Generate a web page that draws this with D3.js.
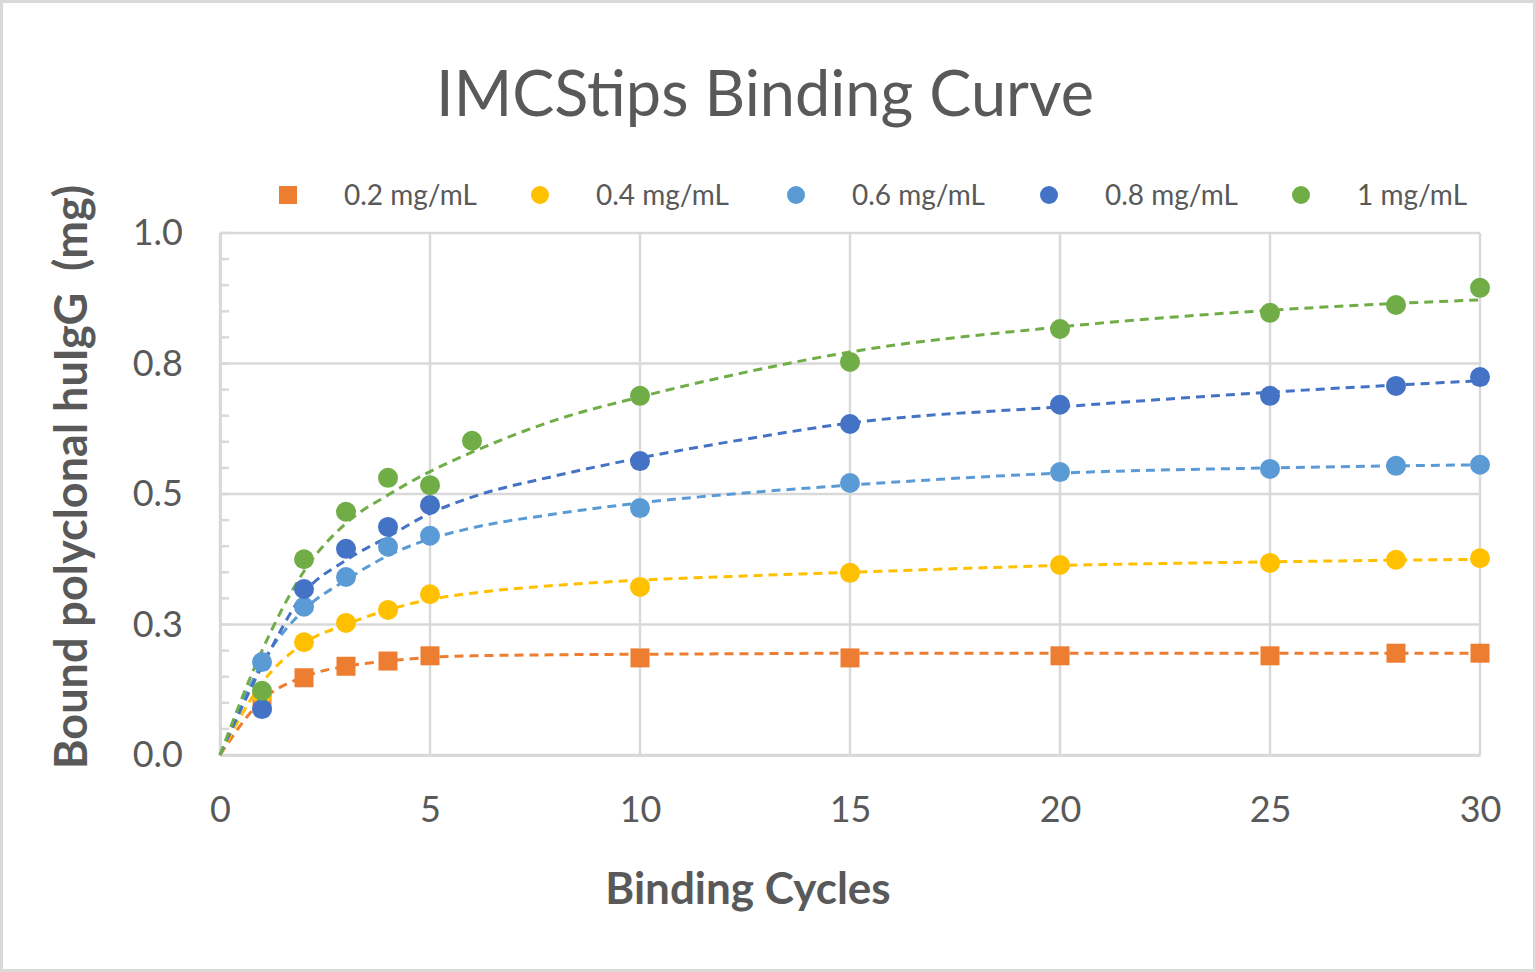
<!DOCTYPE html>
<html>
<head>
<meta charset="utf-8">
<script src="https://cdn.jsdelivr.net/npm/d3@7"></script>
<style>
  body { margin: 0; background: #fff; }
  text { font-family: Lato, "Open Sans", sans-serif; fill: #595959; }
</style>
</head>
<body>
<div class="chart"></div>
<script>
// data
var cycles = [1, 2, 3, 4, 5, 10, 15, 20, 25, 28, 30];
var cyclesGreen = [1, 2, 3, 4, 5, 6, 10, 15, 20, 25, 28, 30];

var conc02 = [0.10, 0.148, 0.170, 0.180, 0.190, 0.186, 0.186, 0.190, 0.190, 0.195, 0.195];
var conc04 = [0.115, 0.216, 0.253, 0.278, 0.308, 0.322, 0.349, 0.364, 0.368, 0.374, 0.377];
var conc06 = [0.178, 0.284, 0.341, 0.399, 0.420, 0.473, 0.521, 0.542, 0.548, 0.554, 0.556];
var conc08 = [0.088, 0.318, 0.395, 0.437, 0.479, 0.563, 0.634, 0.671, 0.688, 0.707, 0.724];
var conc10 = [0.123, 0.375, 0.466, 0.531, 0.517, 0.602, 0.688, 0.753, 0.816, 0.847, 0.862, 0.895];

// trend line points
var fitX = [0, 1, 2, 3, 4, 5, 6, 8, 10, 12.5, 15, 20, 25, 30];
var fit02 = [0, 0.105, 0.150, 0.170, 0.180, 0.187, 0.190, 0.192, 0.193, 0.194, 0.195, 0.195, 0.195, 0.195];
var fit04 = [0, 0.138, 0.214, 0.250, 0.278, 0.298, 0.310, 0.325, 0.335, 0.343, 0.350, 0.363, 0.370, 0.375];
var fit06 = [0, 0.176, 0.278, 0.335, 0.382, 0.414, 0.435, 0.462, 0.483, 0.502, 0.517, 0.540, 0.550, 0.556];
var fit08 = [0, 0.170, 0.310, 0.373, 0.418, 0.463, 0.494, 0.535, 0.569, 0.605, 0.636, 0.667, 0.695, 0.717];
var fit10 = [0, 0.200, 0.352, 0.444, 0.498, 0.543, 0.580, 0.642, 0.686, 0.733, 0.772, 0.820, 0.852, 0.872];

var seriesNames = ["0.2 mg/mL", "0.4 mg/mL", "0.6 mg/mL", "0.8 mg/mL", "1 mg/mL"];
var xTicks = [0, 5, 10, 15, 20, 25, 30];
var yTicks = [0, 0.25, 0.5, 0.75, 1];
var yTickLabels = ["0.0", "0.3", "0.5", "0.8", "1.0"];

var colors = ["#ED7D31", "#FFC000", "#5B9BD5", "#4472C4", "#70AD47"];

var series = [
  { name: seriesNames[0], x: cycles, y: conc02, fit: fit02, color: colors[0], shape: "square" },
  { name: seriesNames[1], x: cycles, y: conc04, fit: fit04, color: colors[1], shape: "circle" },
  { name: seriesNames[2], x: cycles, y: conc06, fit: fit06, color: colors[2], shape: "circle" },
  { name: seriesNames[3], x: cycles, y: conc08, fit: fit08, color: colors[3], shape: "circle" },
  { name: seriesNames[4], x: cyclesGreen, y: conc10, fit: fit10, color: colors[4], shape: "circle" }
];

var svgWidth = 1536;
var svgHeight = 972;

var margin = { top: 233, right: 56, bottom: 217, left: 220 };
var width = svgWidth - margin.left - margin.right;
var height = svgHeight - margin.top - margin.bottom;

var svg = d3.select(".chart")
  .append("svg")
  .attr("width", svgWidth)
  .attr("height", svgHeight);

// outer frame
svg.append("rect")
  .attr("x", 1.5).attr("y", 1.5)
  .attr("width", svgWidth - 3).attr("height", svgHeight - 3)
  .attr("fill", "#fff")
  .attr("stroke", "#d9d9d9")
  .attr("stroke-width", 3);

var chartGroup = svg.append("g")
  .attr("transform", `translate(${margin.left}, ${margin.top})`);

var xScale = d3.scaleLinear().domain([0, 30]).range([0, width]);
var yScale = d3.scaleLinear().domain([0, 1]).range([height, 0]);

// gridlines
chartGroup.append("g")
  .selectAll("line.hgrid")
  .data(yTicks)
  .enter()
  .append("line")
  .attr("x1", 0).attr("x2", width)
  .attr("y1", d => yScale(d)).attr("y2", d => yScale(d))
  .attr("stroke", "#d9d9d9")
  .attr("stroke-width", 2.5);

chartGroup.append("g")
  .selectAll("line.vgrid")
  .data(xTicks)
  .enter()
  .append("line")
  .attr("x1", d => xScale(d)).attr("x2", d => xScale(d))
  .attr("y1", 0).attr("y2", height)
  .attr("stroke", "#d9d9d9")
  .attr("stroke-width", 2.5);

// axes
var bottomAxis = d3.axisBottom(xScale).tickValues(xTicks).tickSize(0).tickPadding(54);
var leftAxis = d3.axisLeft(yScale).tickValues(yTicks).tickSize(0).tickPadding(37)
  .tickFormat((d, i) => yTickLabels[i]);

var xAxisG = chartGroup.append("g")
  .attr("transform", `translate(0, ${height})`)
  .call(bottomAxis);
var yAxisG = chartGroup.append("g").call(leftAxis);

[xAxisG, yAxisG].forEach(function(g) {
  g.select(".domain").attr("stroke", "#d9d9d9").attr("stroke-width", 3);
  g.selectAll("text")
    .attr("font-family", "Lato, sans-serif")
    .attr("font-size", "36px")
    .attr("fill", "#595959");
});
xAxisG.selectAll("text").attr("dy", "0.35em");

// minor ticks on the value axis
var minorTicks = d3.range(0, 1.0001, 0.05);
chartGroup.append("g")
  .selectAll("line")
  .data(minorTicks)
  .enter()
  .append("line")
  .attr("x1", 0).attr("x2", 9)
  .attr("y1", d => yScale(d)).attr("y2", d => yScale(d))
  .attr("stroke", "#d9d9d9")
  .attr("stroke-width", 2.5);

// trend lines
var fitLine = d3.line()
  .x((d, i) => xScale(fitX[i]))
  .y(d => yScale(d))
  .curve(d3.curveMonotoneX);

series.forEach(function(s) {
  chartGroup.append("path")
    .attr("d", fitLine(s.fit))
    .attr("fill", "none")
    .attr("stroke", s.color)
    .attr("stroke-width", 3)
    .attr("stroke-dasharray", "9,6");
});

// markers
series.forEach(function(s) {
  var pts = s.y.map((v, i) => ({ x: s.x[i], y: v }));
  if (s.shape === "square") {
    chartGroup.selectAll(null)
      .data(pts)
      .enter()
      .append("rect")
      .attr("x", d => xScale(d.x) - 9.5)
      .attr("y", d => yScale(d.y) - 9.5)
      .attr("width", 19).attr("height", 19)
      .attr("fill", s.color);
  } else {
    chartGroup.selectAll(null)
      .data(pts)
      .enter()
      .append("circle")
      .attr("cx", d => xScale(d.x))
      .attr("cy", d => yScale(d.y))
      .attr("r", 10)
      .attr("fill", s.color);
  }
});

// legend
var legendX = [288, 540, 796, 1049, 1301];
var legend = svg.append("g");
series.forEach(function(s, i) {
  var g = legend.append("g").attr("transform", `translate(${legendX[i]}, 195)`);
  if (s.shape === "square") {
    g.append("rect").attr("x", -9).attr("y", -9).attr("width", 18).attr("height", 18).attr("fill", s.color);
  } else {
    g.append("circle").attr("r", 9).attr("fill", s.color);
  }
  g.append("text")
    .attr("x", 56)
    .attr("dy", "0.35em")
    .attr("font-size", "28px")
    .text(s.name);
});

// title
svg.append("text")
  .attr("x", 765)
  .attr("y", 116)
  .attr("text-anchor", "middle")
  .attr("font-size", "63px")
  .text("IMCStips Binding Curve");

// axis titles
svg.append("text")
  .attr("transform", `translate(87, 477) rotate(-90)`)
  .attr("text-anchor", "middle")
  .attr("font-size", "45px")
  .attr("font-weight", "bold")
  .style("white-space", "pre")
  .text("Bound polyclonal huIgG  (mg)");

svg.append("text")
  .attr("x", 748)
  .attr("y", 904)
  .attr("text-anchor", "middle")
  .attr("font-size", "44px")
  .attr("font-weight", "bold")
  .text("Binding Cycles");
</script>
</body>
</html>
